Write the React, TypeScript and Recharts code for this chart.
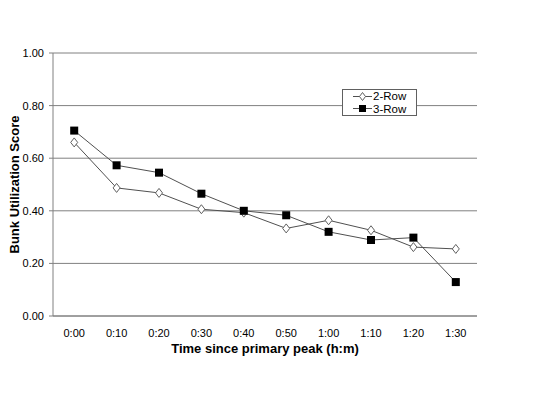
import { LineChart, Line, XAxis, YAxis, CartesianGrid } from 'recharts';

const times = ['0:00', '0:10', '0:20', '0:30', '0:40', '0:50', '1:00', '1:10', '1:20', '1:30'];
const twoRow = [0.66, 0.487, 0.468, 0.406, 0.393, 0.333, 0.364, 0.326, 0.262, 0.255];
const threeRow = [0.705, 0.573, 0.545, 0.465, 0.4, 0.383, 0.32, 0.289, 0.298, 0.129];
const yTicks = [0, 0.2, 0.4, 0.6, 0.8, 1.0];

const data = times.map((t, i) => ({ idx: i, time: t, twoRow: twoRow[i], threeRow: threeRow[i] }));
const labelTicks = times.map((_, i) => i);
const edgeTicks = [...times.map((_, i) => i - 0.5), times.length - 0.5];

const FONT = '"Liberation Sans", Arial, sans-serif';
const AXIS = '#808080';
const LINE = '#505050';

const Square = (props: any) => {
  const { cx, cy } = props;
  if (cx == null || cy == null) return null;
  return <rect x={cx - 4} y={cy - 4} width={8} height={8} fill="#000" />;
};

const Diamond = (props: any) => {
  const { cx, cy } = props;
  if (cx == null || cy == null) return null;
  return (
    <path
      d={`M${cx},${cy - 4.5}L${cx + 3.5},${cy}L${cx},${cy + 4.5}L${cx - 3.5},${cy}Z`}
      fill="#fff"
      stroke="#606060"
      strokeWidth={1}
    />
  );
};

const LegendBox = () => (
  <div
    style={{
      position: 'absolute',
      left: 342,
      top: 89,
      boxSizing: 'border-box',
      width: 75,
      height: 27,
      border: '1px solid #606060',
      background: '#fff',
      padding: '0 0 0 10px',
      fontFamily: FONT,
      fontSize: 11.5,
      lineHeight: '12.5px',
      color: '#000',
    }}
  >
    {[
      { name: '2-Row', diamond: true },
      { name: '3-Row', diamond: false },
    ].map(s => (
      <div key={s.name} style={{ display: 'flex', alignItems: 'center', height: 12.5 }}>
        <svg width={19} height={11} style={{ flex: 'none' }}>
          <line x1={0} y1={5.5} x2={19} y2={5.5} stroke={LINE} />
          {s.diamond ? (
            <path d="M9.5,1.5L12.5,5.5L9.5,9.5L6.5,5.5Z" fill="#fff" stroke="#606060" />
          ) : (
            <rect x={6} y={2} width={7} height={7} fill="#000" />
          )}
        </svg>
        <span style={{ marginLeft: 1 }}>{s.name}</span>
      </div>
    ))}
  </div>
);

export default function App() {
  return (
    <div style={{ position: 'absolute', left: 0, top: 0, width: 533, height: 400, background: '#fff' }}>
      <LineChart
        width={533}
        height={400}
        data={data}
        margin={{ top: 53, right: 56, left: 0, bottom: 0 }}
        style={{ fontFamily: FONT }}
      >
        <CartesianGrid horizontal vertical={false} stroke={AXIS} strokeWidth={1} />
        <XAxis
          xAxisId="edges"
          type="number"
          dataKey="idx"
          domain={[-0.5, times.length - 0.5]}
          ticks={edgeTicks}
          tick={false}
          tickSize={4}
          tickLine={{ stroke: AXIS }}
          axisLine={false}
          height={0}
        />
        <XAxis
          xAxisId="main"
          type="number"
          dataKey="idx"
          domain={[-0.5, times.length - 0.5]}
          ticks={labelTicks}
          tickFormatter={(v: number) => times[v]}
          tick={{ fill: '#000', fontSize: 11 }}
          tickLine={false}
          tickSize={4}
          tickMargin={9}
          axisLine={{ stroke: AXIS }}
          height={84}
          interval={0}
          label={{
            value: 'Time since primary peak (h:m)',
            position: 'insideTop',
            offset: 28,
            fill: '#000',
            fontSize: 13,
            fontWeight: 'bold',
          }}
        />
        <YAxis
          domain={[0, 1]}
          ticks={yTicks}
          tickFormatter={(v: number) => v.toFixed(2)}
          tick={{ fill: '#000', fontSize: 11 }}
          tickSize={4}
          tickMargin={5}
          tickLine={{ stroke: AXIS }}
          axisLine={{ stroke: AXIS }}
          width={53}
          interval={0}
          label={{
            value: 'Bunk Utilization Score',
            angle: -90,
            position: 'center',
            dx: -12,
            fill: '#000',
            fontSize: 13,
            fontWeight: 'bold',
          }}
        />
        <YAxis
          yAxisId="border"
          orientation="right"
          domain={[0, 1]}
          tick={false}
          tickLine={false}
          axisLine={{ stroke: AXIS }}
          width={0}
        />
        <Line
          xAxisId="main"
          type="linear"
          dataKey="twoRow"
          name="2-Row"
          stroke={LINE}
          strokeWidth={1}
          dot={<Diamond />}
          activeDot={false}
          isAnimationActive={false}
        />
        <Line
          xAxisId="main"
          type="linear"
          dataKey="threeRow"
          name="3-Row"
          stroke={LINE}
          strokeWidth={1}
          dot={<Square />}
          activeDot={false}
          isAnimationActive={false}
        />
      </LineChart>
      <LegendBox />
    </div>
  );
}
